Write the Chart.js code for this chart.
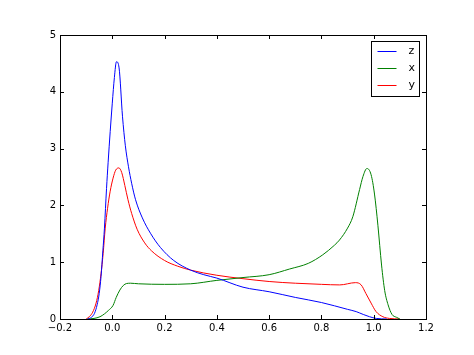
<!DOCTYPE html>
<html>
<head>
<meta charset="utf-8">
<script src="https://cdn.jsdelivr.net/npm/chart.js@4/dist/chart.umd.min.js"></script>
<style>
html,body{margin:0;padding:0;background:#fff;}
#wrap{width:474px;height:355px;position:relative;}
</style>
</head>
<body>
<div id="wrap"><canvas id="c" width="474" height="355"></canvas></div>
<script>
// ---- data ----
const seriesNames = ["z", "x", "y"];
const seriesColors = ["#0000ff", "#008000", "#ff0000"];

const zX = [-0.095, -0.08, -0.068, -0.058, -0.05, -0.043, -0.036, -0.03, -0.022, -0.016, -0.008, 0.0, 0.008, 0.016, 0.026, 0.039, 0.05, 0.062, 0.074, 0.089, 0.115, 0.146, 0.184, 0.235, 0.3, 0.35, 0.4, 0.5, 0.6, 0.7, 0.8, 0.9, 0.933, 0.96, 0.984, 1.01, 1.05];
const zY = [0, 0.03, 0.1, 0.25, 0.45, 0.75, 1.2, 1.6, 2.3, 2.75, 3.3, 3.8, 4.25, 4.53, 4.42, 3.57, 3.05, 2.68, 2.39, 2.1, 1.78, 1.51, 1.26, 1.03, 0.86, 0.78, 0.72, 0.56, 0.48, 0.38, 0.29, 0.17, 0.13, 0.08, 0.04, 0.01, 0];

const xX = [-0.095, -0.07, -0.047, -0.03, -0.015, 0.003, 0.015, 0.029, 0.042, 0.055, 0.07, 0.1, 0.2, 0.3, 0.4, 0.5, 0.6, 0.678, 0.75, 0.805, 0.85, 0.869, 0.9, 0.92, 0.946, 0.959, 0.974, 0.99, 1.003, 1.016, 1.03, 1.042, 1.055, 1.07, 1.087, 1.1];
const xY = [0, 0.01, 0.04, 0.09, 0.15, 0.24, 0.38, 0.51, 0.59, 0.625, 0.63, 0.62, 0.61, 0.62, 0.68, 0.73, 0.78, 0.88, 0.98, 1.13, 1.3, 1.39, 1.6, 1.8, 2.28, 2.51, 2.65, 2.54, 2.2, 1.65, 0.95, 0.5, 0.25, 0.08, 0.03, 0];

const yX = [-0.1, -0.088, -0.075, -0.062, -0.052, -0.043, -0.035, -0.027, -0.018, -0.008, 0.003, 0.013, 0.025, 0.036, 0.048, 0.06, 0.074, 0.095, 0.124, 0.15, 0.2, 0.25, 0.3, 0.4, 0.5, 0.6, 0.7, 0.8, 0.87, 0.93, 0.952, 0.97, 0.99, 1.009, 1.035, 1.06, 1.1];
const yY = [0, 0.04, 0.12, 0.28, 0.5, 0.8, 1.15, 1.6, 1.95, 2.25, 2.48, 2.62, 2.66, 2.58, 2.35, 2.1, 1.86, 1.58, 1.34, 1.2, 1.03, 0.93, 0.86, 0.77, 0.71, 0.66, 0.63, 0.61, 0.6, 0.64, 0.6, 0.45, 0.28, 0.13, 0.04, 0.01, 0];

const xTicks = [-0.2, 0.0, 0.2, 0.4, 0.6, 0.8, 1.0, 1.2];
const yTicks = [0, 1, 2, 3, 4, 5];

// ---- build ----
function pts(xs, ys) { return xs.map((v, i) => ({ x: v, y: ys[i] })); }
const seriesData = [pts(zX, zY), pts(xX, xY), pts(yX, yY)];

const FONT = "'DejaVu Sans', 'Liberation Sans', sans-serif";

const framePlugin = {
  id: 'frame',
  afterDraw(chart) {
    const ctx = chart.ctx, a = chart.chartArea;
    const xs = chart.scales.x, ys = chart.scales.y;
    ctx.save();
    ctx.strokeStyle = '#000';
    ctx.lineWidth = 1;
    // inward ticks on all sides
    ctx.beginPath();
    xTicks.forEach(t => {
      const p = Math.round(xs.getPixelForValue(t)) + 0.5;
      ctx.moveTo(p, a.bottom); ctx.lineTo(p, a.bottom - 4);
      ctx.moveTo(p, a.top); ctx.lineTo(p, a.top + 4);
    });
    yTicks.forEach(t => {
      const p = Math.round(ys.getPixelForValue(t)) + 0.5;
      ctx.moveTo(a.left, p); ctx.lineTo(a.left + 4, p);
      ctx.moveTo(a.right, p); ctx.lineTo(a.right - 4, p);
    });
    ctx.stroke();
    // frame
    ctx.strokeRect(Math.round(a.left) + 0.5, Math.round(a.top) + 0.5,
                   Math.round(a.right - a.left), Math.round(a.bottom - a.top));
    // legend box (upper right, inside axes)
    const bx = Math.round(a.right) - 54.5, by = Math.round(a.top) + 6.5, bw = 48, bh = 55;
    ctx.fillStyle = '#fff';
    ctx.fillRect(bx, by, bw, bh);
    ctx.strokeRect(bx, by, bw, bh);
    ctx.font = '11px ' + FONT;
    ctx.textBaseline = 'middle';
    ctx.textAlign = 'left';
    seriesNames.forEach((n, i) => {
      const ry = Math.round(by + 9.5 + i * 17) + 0.5;
      ctx.strokeStyle = seriesColors[i];
      ctx.beginPath();
      ctx.moveTo(bx + 6, ry); ctx.lineTo(bx + 25, ry);
      ctx.stroke();
      ctx.fillStyle = '#000';
      ctx.fillText(n, bx + 37, ry);
    });
    ctx.restore();
  }
};

new Chart(document.getElementById('c'), {
  type: 'line',
  data: {
    datasets: seriesNames.map((n, i) => ({
      label: n,
      data: seriesData[i],
      borderColor: seriesColors[i],
      backgroundColor: seriesColors[i],
      borderWidth: 1,
      pointRadius: 0,
      fill: false,
      cubicInterpolationMode: 'monotone'
    }))
  },
  options: {
    responsive: false,
    animation: false,
    devicePixelRatio: 1,
    layout: { padding: { top: 35, right: 48, left: 0, bottom: 0 } },
    plugins: { legend: { display: false }, tooltip: { enabled: false } },
    scales: {
      x: {
        type: 'linear', min: -0.2, max: 1.2,
        afterBuildTicks: s => { s.ticks = xTicks.map(v => ({ value: v })); },
        afterFit: s => { s.height = 36; },
        grid: { display: false, drawTicks: false },
        border: { display: false },
        ticks: {
          padding: 3, color: '#000', maxRotation: 0, autoSkip: false,
          font: { family: FONT, size: 10 },
          callback: v => (v < 0 ? '\u2212' : '') + Math.abs(v).toFixed(1)
        }
      },
      y: {
        type: 'linear', min: 0, max: 5,
        afterBuildTicks: s => { s.ticks = yTicks.map(v => ({ value: v })); },
        afterFit: s => { s.width = 60; },
        grid: { display: false, drawTicks: false },
        border: { display: false },
        ticks: {
          padding: 4, color: '#000', autoSkip: false,
          font: { family: FONT, size: 10 },
          callback: v => String(v)
        }
      }
    }
  },
  plugins: [framePlugin]
});
</script>
</body>
</html>
